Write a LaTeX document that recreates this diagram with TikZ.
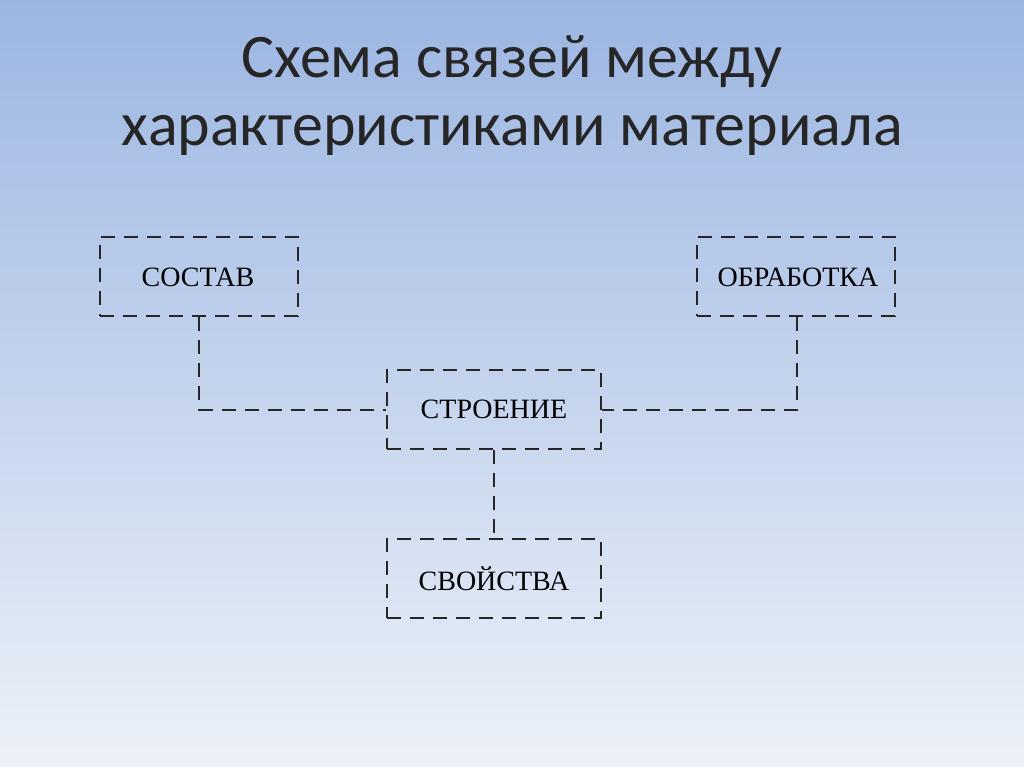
\documentclass[tikz,border=0pt]{standalone}
\usepackage{fontspec}
\setmainfont{Liberation Serif}
\newfontfamily\titlefont{Carlito}
\begin{document}
\begin{tikzpicture}[x=1pt,y=-1pt,
  box/.style={draw=black!85,line width=2pt,dash pattern=on 14pt off 9pt,minimum width=198pt,minimum height=79pt,font=\fontsize{28}{32}\selectfont,inner sep=0pt},
  link/.style={draw=black!85,line width=2pt,dash pattern=on 14pt off 9pt}]
\shade[top color={rgb,255:red,156;green,182;blue,226},bottom color={rgb,255:red,236;green,241;blue,248}] (0,0) rectangle (1024,767);
\useasboundingbox (0,0) rectangle (1024,767);
\node[font=\titlefont\fontsize{62}{68}\selectfont,text=black!85,align=center] (title) at (512,96) {Схема связей между\\характеристиками материала};
\node[box] (sostav) at (199,276.5) {};
\node[font=\fontsize{28}{32}\selectfont] (sostavt) at (198,277) {СОСТАВ};
\node[box] (obr) at (795.5,276.5) {};
\node[font=\fontsize{28}{32}\selectfont] (obrt) at (798,277) {ОБРАБОТКА};
\node[box,minimum width=214pt] (str) at (494,409.5) {СТРОЕНИЕ};
\node[box,minimum width=214pt] (sv) at (494,578.5) {СВОЙСТВА};
\coordinate (c1) at (sostav.south |- str.west);
\coordinate (c2) at (797,409.5);
\draw[link] (sostav.south) -- (c1) -- (str.west);
\draw[link] (obr.south -| c2) -- (c2) -- (str.east);
\draw[link] (str.south) -- (sv.north);
\end{tikzpicture}
\end{document}
